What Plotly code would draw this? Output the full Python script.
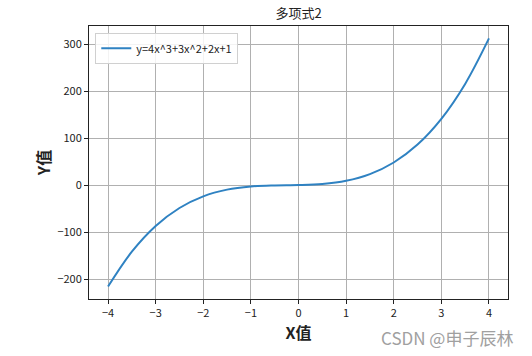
import plotly.graph_objects as go

x_vals = [-4, -3.5, -3, -2.5, -2, -1.5, -1, -0.5, 0, 0.5, 1, 1.5, 2, 2.5, 3, 3.5, 4]
y_vals = [-215, -140.75, -86, -47.75, -23, -8.75, -2, 0.25, 1, 3.25, 10, 24.25, 49, 87.25, 142, 216.25, 313]
x_ticks = [-4, -3, -2, -1, 0, 1, 2, 3, 4]
y_ticks = [-200, -100, 0, 100, 200, 300]
series_name = "y=4x^3+3x^2+2x+1"
title_text = "多项式2"

font_family = "Noto Sans CJK SC, DejaVu Sans, sans-serif"

fig = go.Figure()
fig.add_trace(go.Scatter(
    x=x_vals, y=y_vals, mode="lines", name=series_name,
    line=dict(color="#2f82c2", width=2, shape="spline"),
))

axis_common = dict(
    showline=True, linecolor="#222", linewidth=1, mirror=True,
    showgrid=True, gridcolor="#b0b0b0", gridwidth=1,
    ticks="outside", ticklen=4, tickcolor="#222", tickwidth=1,
    zeroline=False,
    tickfont=dict(family=font_family, size=11, color="#222"),
)

plot_l, plot_r, plot_t, plot_b = 89, 508, 26, 299

fig.update_layout(
    width=532, height=356,
    margin=dict(l=plot_l, r=532 - plot_r, t=plot_t, b=356 - plot_b),
    paper_bgcolor="white", plot_bgcolor="white",
    font=dict(family=font_family, color="#222"),
    title=dict(text=title_text, x=(plot_l + plot_r) / 2 / 532, xanchor="center",
               y=1 - 13 / 356, yanchor="middle",
               font=dict(size=13, color="#222", family=font_family)),
    xaxis=dict(range=[-4.4, 4.4], tickvals=x_ticks,
               ticktext=["\u22124", "\u22123", "\u22122", "\u22121", "0", "1", "2", "3", "4"],
               title=dict(text="<b>X值</b>", font=dict(size=16, family=font_family, color="#222"), standoff=1),
               **axis_common),
    yaxis=dict(range=[-241.4, 339.4], tickvals=y_ticks,
               ticktext=["\u2212200", "\u2212100", "0", "100", "200", "300"],
               title=dict(text="<b>Y值</b>", font=dict(size=16, family=font_family, color="#222"), standoff=2),
               **axis_common),
    showlegend=True,
    legend=dict(x=0.015, y=0.975, xanchor="left", yanchor="top",
                bgcolor="rgba(255,255,255,0.85)", bordercolor="#d0d0d0", borderwidth=1,
                font=dict(size=11, family=font_family, color="#222")),
    annotations=[dict(text="CSDN @申子辰林", xref="paper", yref="paper",
                      x=(515 - plot_l) / (plot_r - plot_l), y=-(337 - plot_b) / (plot_b - plot_t),
                      xanchor="right", yanchor="middle", showarrow=False,
                      font=dict(size=17, color="#a0a0a0", family=font_family))],
)

fig.write_html("out.html")
